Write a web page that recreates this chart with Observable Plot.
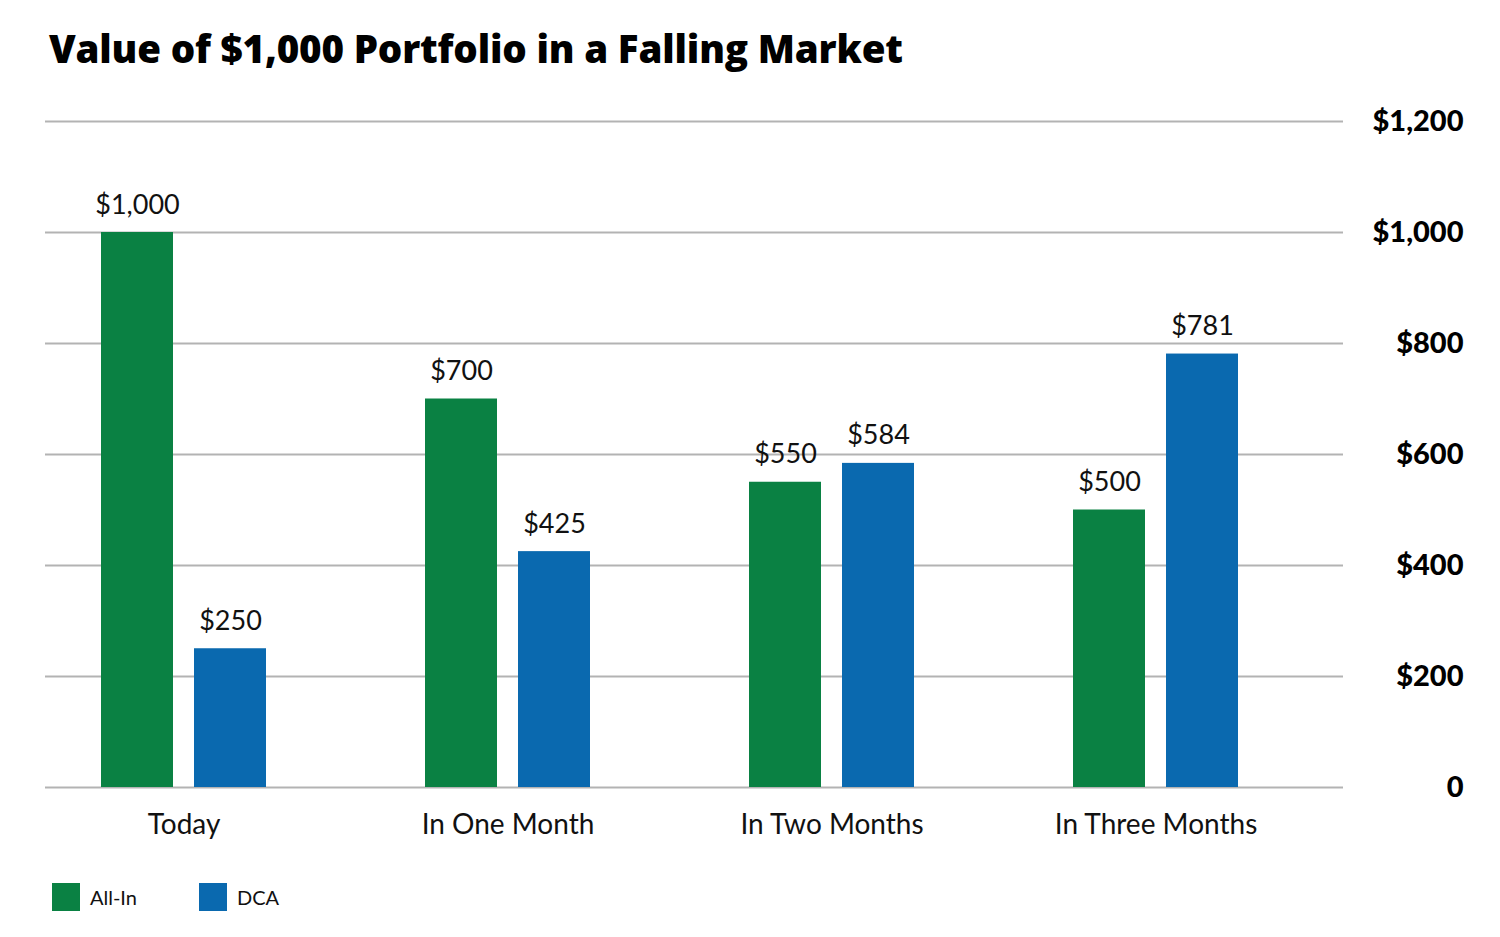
<!DOCTYPE html>
<html>
<head>
<meta charset="utf-8">
<script src="https://cdn.jsdelivr.net/npm/d3@7"></script>
<script src="https://cdn.jsdelivr.net/npm/@observablehq/plot@0.6"></script>
<style>
  html, body { margin: 0; padding: 0; background: #fff; }
  body { width: 1500px; height: 937px; position: relative; font-family: Lato, "Open Sans", sans-serif; overflow: hidden; }
  #title { position: absolute; left: 49px; top: 25px; font-family: "Open Sans", Lato, sans-serif; font-size: 38.5px; font-weight: 800; color: #000; white-space: nowrap; line-height: 1.2; }
  #chart { position: absolute; left: 0; top: 90px; }
  #legend { position: absolute; left: 52px; top: 883px; display: flex; align-items: center; font-size: 20px; color: #111; }
  .sw { width: 28px; height: 28px; display: inline-block; margin-right: 10px; }
  .item { display: flex; align-items: center; }
</style>
</head>
<body>
<div id="title">Value of $1,000 Portfolio in a Falling Market</div>
<div id="chart"></div>
<div id="legend"></div>
<script>
const periods = ["Today", "In One Month", "In Two Months", "In Three Months"];
const allIn = [1000, 700, 550, 500];
const dca = [250, 425, 584, 781];
const seriesNames = ["All-In", "DCA"];
const colors = ["#0a8143", "#0a69af"];
const yTicks = [0, 200, 400, 600, 800, 1000, 1200];

const data = periods.flatMap((p, i) => [
  {period: p, series: seriesNames[0], value: allIn[i]},
  {period: p, series: seriesNames[1], value: dca[i]}
]);

const bandW = 165, barW = 72;
const inset = bandW - barW;
const fmt = v => v === 0 ? "0" : d3.format("$,")(v);

const chart = Plot.plot({
  width: 1500,
  height: 770,
  marginLeft: 45,
  marginRight: 157,
  marginTop: 31,
  marginBottom: 73,
  style: {fontFamily: "Lato, 'Open Sans', sans-serif", color: "#111", background: "transparent"},
  x: {domain: periods, paddingInner: 0.49, paddingOuter: 0.248, align: 0.35, label: null},
  y: {domain: [0, 1200], label: null},
  marks: [
    Plot.ruleY(yTicks, {stroke: "#b3b3b3", strokeWidth: 2}),
    Plot.barY(data.filter(d => d.series === "All-In"), {x: "period", y: "value", fill: colors[0], insetRight: inset}),
    Plot.barY(data.filter(d => d.series === "DCA"), {x: "period", y: "value", fill: colors[1], insetLeft: inset}),
    Plot.text(data.filter(d => d.series === "All-In"), {x: "period", y: "value", text: d => d3.format("$,")(d.value), dx: -inset / 2, lineAnchor: "bottom", dy: -19, fontSize: 27, fill: "#111"}),
    Plot.text(data.filter(d => d.series === "DCA"), {x: "period", y: "value", text: d => d3.format("$,")(d.value), dx: inset / 2, lineAnchor: "bottom", dy: -19, fontSize: 27, fill: "#111"}),
    Plot.axisX({tickSize: 0, tickPadding: 27, fontSize: 28, fill: "#111", label: null}),
    Plot.axisY(yTicks, {anchor: "right", tickSize: 0, tickPadding: 120, textAnchor: "end", fontSize: 29, fontWeight: 900, fill: "#000", tickFormat: fmt, label: null})
  ]
});
document.getElementById("chart").appendChild(chart);

// fit the title to the reference width
const title = document.getElementById("title");
const targetW = 854;
const n = title.textContent.length - 1;
const w0 = title.getBoundingClientRect().width;
title.style.letterSpacing = ((targetW - w0) / n) + "px";

const legend = document.getElementById("legend");
seriesNames.forEach((name, i) => {
  const item = document.createElement("div");
  item.className = "item";
  item.style.width = i === 0 ? "147px" : "auto";
  const sw = document.createElement("span");
  sw.className = "sw";
  sw.style.background = colors[i];
  const lab = document.createElement("span");
  lab.textContent = name;
  item.appendChild(sw);
  item.appendChild(lab);
  legend.appendChild(item);
});
</script>
</body>
</html>
